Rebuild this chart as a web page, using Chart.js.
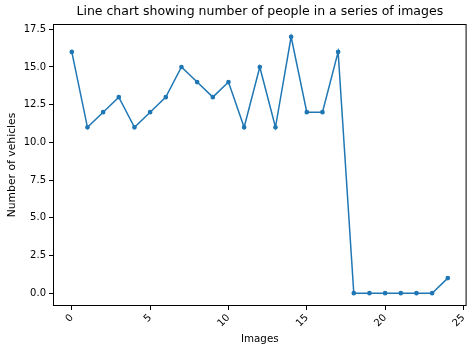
<!DOCTYPE html>
<html>
<head>
<meta charset="utf-8">
<script src="https://cdn.jsdelivr.net/npm/chart.js@4"></script>
<style>
  html, body { margin: 0; padding: 0; background: #fff; }
  #wrap { width: 474px; height: 353px; }
</style>
</head>
<body>
<div id="wrap"><canvas id="chart" width="474" height="353"></canvas></div>
<script>
// Chart data
const imageIndex = [0, 1, 2, 3, 4, 5, 6, 7, 8, 9, 10, 11, 12, 13, 14, 15, 16, 17, 18, 19, 20, 21, 22, 23, 24];
const peopleCount = [16, 11, 12, 13, 11, 12, 13, 15, 14, 13, 14, 11, 15, 11, 17, 12, 12, 16, 0, 0, 0, 0, 0, 0, 1];
const xTicks = [0, 5, 10, 15, 20, 25];
const yTicks = [0, 2.5, 5, 7.5, 10, 12.5, 15, 17.5];

const FONT = 'DejaVu Sans';

// Draw the black frame around the plot area
const framePlugin = {
    id: 'frame',
    afterDraw(chart) {
        const { ctx, chartArea: a } = chart;
        ctx.save();
        ctx.strokeStyle = '#000';
        ctx.lineWidth = 1;
        ctx.strokeRect(a.left + 0.5, a.top + 0.5, a.right - a.left - 1, a.bottom - a.top - 1);
        ctx.restore();
    }
};

new Chart(document.getElementById('chart'), {
    type: 'scatter',
    data: {
        datasets: [{
            data: imageIndex.map((x, i) => ({ x: x, y: peopleCount[i] })),
            showLine: true,
            borderColor: '#1f77b4',
            backgroundColor: '#1f77b4',
            borderWidth: 1.5,
            pointRadius: 1.6,
            pointHoverRadius: 1.6
        }]
    },
    options: {
        responsive: false,
        animation: false,
        layout: { padding: { left: 0, right: 7, top: 0, bottom: 0 } },
        plugins: {
            legend: { display: false },
            tooltip: { enabled: false },
            title: {
                display: true,
                fullSize: false,
                text: 'Line chart showing number of people in a series of images',
                color: '#000',
                font: { family: FONT, size: 12.5, weight: 'normal' },
                padding: { top: 4, bottom: 5 }
            }
        },
        scales: {
            x: {
                type: 'linear',
                min: -1.2,
                max: 25.2,
                afterBuildTicks: s => { s.ticks = xTicks.map(v => ({ value: v })); },
                afterFit: s => { s.height = 47; },
                grid: { drawOnChartArea: false, tickLength: 4, tickColor: '#000' },
                border: { display: false },
                ticks: {
                    color: '#000',
                    font: { family: FONT, size: 10 },
                    maxRotation: 45,
                    minRotation: 45,
                    padding: 2
                },
                title: {
                    display: true,
                    text: 'Images',
                    color: '#000',
                    font: { family: FONT, size: 10.3 },
                    padding: { top: 2, bottom: 7 }
                }
            },
            y: {
                min: -0.85,
                max: 17.85,
                afterBuildTicks: s => { s.ticks = yTicks.map(v => ({ value: v })); },
                afterFit: s => { s.width = 53; },
                grid: { drawOnChartArea: false, tickLength: 4, tickColor: '#000' },
                border: { display: false },
                ticks: {
                    color: '#000',
                    font: { family: FONT, size: 10 },
                    padding: 3,
                    callback: v => v.toFixed(1)
                },
                title: {
                    display: true,
                    text: 'Number of vehicles',
                    color: '#000',
                    font: { family: FONT, size: 10.8 },
                    padding: { top: 6, bottom: 2 }
                }
            }
        }
    },
    plugins: [framePlugin]
});
</script>
</body>
</html>
